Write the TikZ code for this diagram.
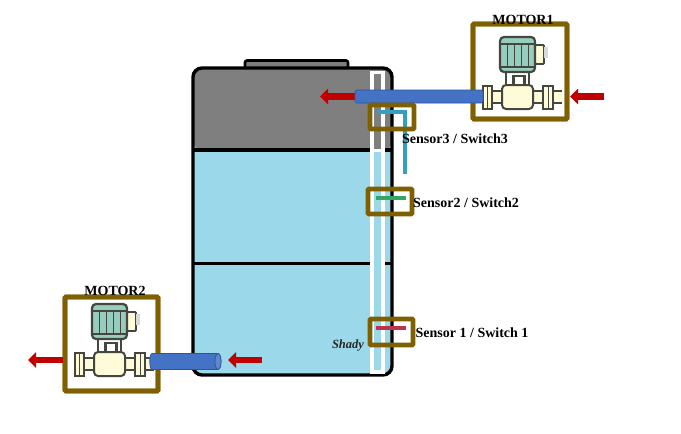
\documentclass[tikz,border=0pt]{standalone}
\usepackage{fontspec}
\setmainfont{Liberation Serif}
\usetikzlibrary{arrows.meta}
\definecolor{tankblue}{RGB}{155,216,234}
\definecolor{tankgray}{RGB}{127,127,127}
\definecolor{boxbrown}{RGB}{127,96,0}
\definecolor{pipeblue}{RGB}{68,114,196}
\definecolor{pipeedge}{RGB}{47,85,151}
\definecolor{flowred}{RGB}{192,0,0}
\definecolor{motorgreen}{RGB}{150,205,190}
\definecolor{pumpcream}{RGB}{255,250,215}
\definecolor{pumpdark}{RGB}{70,70,65}
\definecolor{wirecyan}{RGB}{50,160,190}
\definecolor{sensorgreen}{RGB}{50,165,105}
\definecolor{sensorred}{RGB}{190,50,75}
\tikzset{
  x=1pt,y=-1pt,
  tankline/.style={draw=black,line width=3.4pt},
  brownbox/.style={draw=boxbrown,line width=4.8pt,rounded corners=1pt},
  flowarrow/.style={draw=flowred,line width=6.5pt,-{Triangle[length=8pt,width=15pt]}},
  pipebody/.style={fill=pipeblue,draw=pipeedge,line width=0.7pt},
  labeltext/.style={font=\bfseries\fontsize{14}{16}\selectfont,inner sep=0pt,anchor=west},
  motortext/.style={font=\bfseries\fontsize{14}{16}\selectfont,inner sep=0pt},
  pumppart/.style={fill=pumpcream,draw=pumpdark,line width=2pt},
  pumpunit/.pic={
    % pipe
    \fill[pumpcream] (0,91) rectangle (80,103);
    \draw[pumpdark,line width=1.4pt] (0,91)--(80,91) (0,103)--(80,103);
    \fill[pumpcream] (74,92) rectangle (80,102);
    % flanges
    \filldraw[pumppart] (1,86) rectangle (10,109);
    \filldraw[pumppart] (61,86) rectangle (71,109);
    \draw[pumpdark,line width=1pt] (5.5,86)--(5.5,109) (66,86)--(66,109);
    % pump body
    \filldraw[pumppart,rounded corners=4pt] (20,85) rectangle (51,109);
    % coupling
    \filldraw[fill=white,draw=pumpdark,line width=2pt] (24,72) rectangle (47,85);
    \fill[pumpdark] (30,75) rectangle (44,84);
    \fill[white] (33,77) rectangle (41,84);
    % fan cover
    \filldraw[fill=pumpcream,draw=pumpdark,line width=1.8pt,rounded corners=1pt] (53,45) rectangle (62,64);
    \fill[black!15] (62,47) rectangle (66,58);
    % motor
    \filldraw[fill=motorgreen,draw=pumpdark,line width=2.2pt,rounded corners=4pt] (18,37) rectangle (53,72);
    \draw[pumpdark,line width=1pt] (25,44)--(25,67) (32,44)--(32,67) (39,44)--(39,67) (46,44)--(46,67);
    \draw[pumpdark,line width=1.2pt] (18,44)--(53,44) (18,67)--(53,67);
  }
}
\begin{document}
\begin{tikzpicture}
\useasboundingbox (0,0) rectangle (681,434);
\fill[white] (0,0) rectangle (681,434);

% tank
\filldraw[fill=tankgray,draw=black,line width=2.6pt,rounded corners=2pt] (245,68) -- (245,60.5) -- (348,60.5) -- (348,68);
\fill[tankblue,rounded corners=9pt] (193,100) -- (193,375) -- (392,375) -- (392,100) -- cycle;
\fill[tankgray,rounded corners=9pt] (193,150) -- (193,68) -- (392,68) -- (392,150) -- cycle;
\draw[tankline,rounded corners=9pt] (193,68) -- (193,375) -- (392,375) -- (392,68) -- cycle;
\draw[tankline] (193,150) -- (392,150);
\draw[tankline] (193,263.5) -- (392,263.5);

% level tube
\fill[white] (370,71) rectangle (385,374);
\fill[tankgray] (374,74) rectangle (381,149);
\fill[tankblue] (374,152) rectangle (381,370);

% motor units
\node[brownbox,fill=white,minimum width=94pt,minimum height=95pt,inner sep=0pt] (m1box) at (520,71.5) {};
\node[brownbox,fill=white,minimum width=93pt,minimum height=94pt,inner sep=0pt] (m2box) at (111.5,344) {};
\pic at (482,0) {pumpunit};
\pic at (74,267) {pumpunit};
\node[brownbox,minimum width=94pt,minimum height=95pt,inner sep=0pt] (m1frame) at (520,71.5) {};
\node[brownbox,minimum width=93pt,minimum height=94pt,inner sep=0pt] (m2frame) at (111.5,344) {};

% flow arrows
\coordinate (a1s) at (604,96.5); \coordinate (a1e) at (570,96.5);
\coordinate (a2s) at (357,96.5); \coordinate (a2e) at (320,96.5);
\coordinate (a3s) at (262,360); \coordinate (a3e) at (228,360);
\coordinate (a4s) at (63,360); \coordinate (a4e) at (28,360);
\draw[flowarrow] (a1s) -- (a1e);
\draw[flowarrow] (a2s) -- (a2e);
\draw[flowarrow] (a3s) -- (a3e);
\draw[flowarrow] (a4s) -- (a4e);

% pipes
\node[pipebody,rounded corners=1.5pt,minimum width=128pt,minimum height=13pt,inner sep=0pt] (pipetop) at (419,96.5) {};
\filldraw[pipebody] (152,353.5) -- (218,353.5) .. controls (222,353.5) and (222,369.5) .. (218,369.5) -- (152,369.5) .. controls (149,369.5) and (149,353.5) .. (152,353.5) -- cycle;
\draw[pipeedge,fill=pipeblue!85!white,line width=0.7pt] (218,361.5) ellipse[x radius=3,y radius=8];

% sensors
\coordinate (w3a) at (378,112);
\coordinate (w3b) at (405,112);
\coordinate (w3c) at (405,174);
\draw[wirecyan,line width=3.2pt] (w3a) -- (w3b) -- (w3c);
\coordinate (s2a) at (376,198);
\coordinate (s2b) at (406,198);
\draw[sensorgreen,line width=3.4pt] (s2a) -- (s2b);
\coordinate (s1a) at (376,328);
\coordinate (s1b) at (406,328);
\draw[sensorred,line width=3.4pt] (s1a) -- (s1b);
\node[brownbox,minimum width=44pt,minimum height=24pt,inner sep=0pt] (s3box) at (392,117) {};
\node[brownbox,minimum width=44pt,minimum height=25pt,inner sep=0pt] (s2box) at (390,201.5) {};
\node[brownbox,minimum width=43pt,minimum height=26pt,inner sep=0pt] (s1box) at (391.5,332) {};

% labels
\node[motortext] (m1label) at (523,19.5) {MOTOR1};
\node[motortext] (m2label) at (115,290.5) {MOTOR2};
\node[labeltext] (l3) at (402,138.5) {Sensor3 / Switch3};
\node[labeltext] (l2) at (413,203) {Sensor2 / Switch2};
\node[labeltext] (l1) at (415.5,333) {Sensor 1 / Switch 1};
\node[inner sep=0pt,font=\bfseries\itshape\fontsize{12.5}{14}\selectfont,text=black!85] (brand) at (348,345.5) {Shady};
\end{tikzpicture}
\end{document}
